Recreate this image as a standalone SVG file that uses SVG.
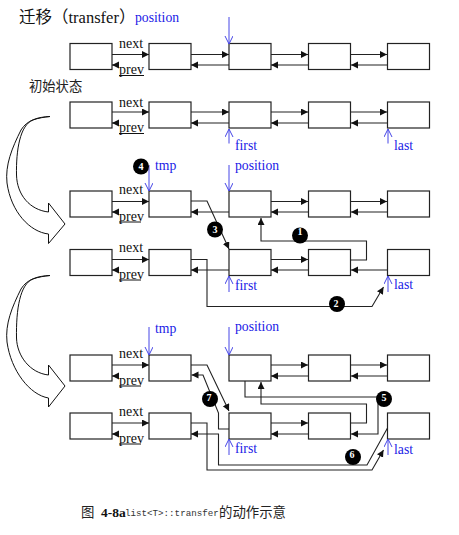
<svg xmlns="http://www.w3.org/2000/svg" width="459" height="535" viewBox="0 0 459 535">
<style>
text{font-family:"Liberation Serif","Noto Sans CJK SC",serif}
.n{fill:#fff;stroke:#222;stroke-width:1.2}
.c{fill:none;stroke:#222;stroke-width:1.1;marker-end:url(#a)}
.b{fill:none;stroke:#4646e6;stroke-width:1;marker-end:url(#o)}
.u{stroke:#111;stroke-width:1}
.l{font-size:14px;fill:#111}
.p{font-size:13.7px;fill:#1a1ae6}
.k{fill:#000}
.w{font-size:10px;font-weight:bold;fill:#fff;text-anchor:middle}
.h{fill:#fff;stroke:#111;stroke-width:1}
</style>
<defs>
<marker id="a" markerUnits="userSpaceOnUse" markerWidth="8" markerHeight="8" refX="7" refY="3.500" orient="auto"><path d="M0,0L7,3.500L0,7z" fill="#111"/></marker>
<marker id="o" markerUnits="userSpaceOnUse" markerWidth="10" markerHeight="12" refX="8" refY="4" orient="auto"><path d="M0,0L8,4L0,8" fill="none" stroke="#4646e6"/></marker>
</defs>
<text x="19" y="23" font-size="16.500" fill="#111">迁移（transfer）</text>
<text x="135" y="22" class="p">position</text>
<text x="29" y="91" font-size="13.300" fill="#222">初始状态</text>
<g id="curved-arrows">
<path class="h" d="M50,116.500C38,117 27,120 21,130C12,148 5,165 7,183C11,212 30,232 48.500,234L48.500,243.500L65,224L48.500,203L48.500,212C30,210 17,195 16.500,175C16,150 20,125 33,120C38,118 45,117 50,116.500z"/>
<path class="h" d="M50,275.500C38,276 27,279 21,289C12,307 5,324 7,342C11,371 30,395 48.500,398L48.500,407L65,386L48.500,365L48.500,375C30,373 17,356 16.500,338C16,309 20,284 33,279C38,277 45,276 50,275.500z"/>
</g>
<g id="r1">
<rect id="n11" class="n" x="70" y="43.500" width="42" height="26"/><rect id="n12" class="n" x="149" y="43.500" width="42" height="26"/><rect id="n13" class="n" x="229" y="43.500" width="42" height="26"/><rect id="n14" class="n" x="308.500" y="43.500" width="42" height="26"/><rect id="n15" class="n" x="387.500" y="43.500" width="42" height="26"/>
</g>
<g id="r2">
<rect id="n21" class="n" x="70" y="102" width="42" height="26"/><rect id="n22" class="n" x="149" y="102" width="42" height="26"/><rect id="n23" class="n" x="229" y="102" width="42" height="26"/><rect id="n24" class="n" x="308.500" y="102" width="42" height="26"/><rect id="n25" class="n" x="387.500" y="102" width="42" height="26"/>
</g>
<g id="r3">
<rect id="n31" class="n" x="70" y="191" width="42" height="26"/><rect id="n32" class="n" x="149" y="191" width="42" height="26"/><rect id="n33" class="n" x="229" y="191" width="42" height="26"/><rect id="n34" class="n" x="308.500" y="191" width="42" height="26"/><rect id="n35" class="n" x="387.500" y="191" width="42" height="26"/>
</g>
<g id="r4">
<rect id="n41" class="n" x="70" y="249.500" width="42" height="26"/><rect id="n42" class="n" x="149" y="249.500" width="42" height="26"/><rect id="n43" class="n" x="229" y="249.500" width="42" height="26"/><rect id="n44" class="n" x="308.500" y="249.500" width="42" height="26"/><rect id="n45" class="n" x="387.500" y="249.500" width="42" height="26"/>
</g>
<g id="r5">
<rect id="n51" class="n" x="70" y="355" width="42" height="26"/><rect id="n52" class="n" x="149" y="355" width="42" height="26"/><rect id="n53" class="n" x="229" y="355" width="42" height="26"/><rect id="n54" class="n" x="308.500" y="355" width="42" height="26"/><rect id="n55" class="n" x="387.500" y="355" width="42" height="26"/>
</g>
<g id="r6">
<rect id="n61" class="n" x="70" y="413" width="42" height="26"/><rect id="n62" class="n" x="149" y="413" width="42" height="26"/><rect id="n63" class="n" x="229" y="413" width="42" height="26"/><rect id="n64" class="n" x="308.500" y="413" width="42" height="26"/><rect id="n65" class="n" x="387.500" y="413" width="42" height="26"/>
</g>
<g id="connectors">
<path class="c" d="M112,54.500H149"/><path class="c" d="M119,65H112"/><path class="c" d="M191,54.500H229"/><path class="c" d="M229,65H191"/><path class="c" d="M271,54.500H308"/><path class="c" d="M308,65H271"/><path class="c" d="M351,54.500H387"/><path class="c" d="M387,65H351"/>
<path class="c" d="M112,112H149"/><path class="c" d="M119,123H112"/><path class="c" d="M191,112H229"/><path class="c" d="M229,123H191"/><path class="c" d="M271,112H308"/><path class="c" d="M308,123H271"/><path class="c" d="M351,112H387"/><path class="c" d="M387,123H351"/>
<path class="c" d="M112,201.500H149"/><path class="c" d="M119,212H112"/><path class="c" d="M229,212H191"/><path class="c" d="M271,201.500H308"/><path class="c" d="M308,212H271"/><path class="c" d="M351,201.500H387"/><path class="c" d="M387,212H351"/>
<path class="c" d="M191,201H207L229,249"/>
<path class="c" d="M112,259.500H149"/><path class="c" d="M119,270H112"/><path class="c" d="M229,270H191"/><path class="c" d="M271,259.500H308"/><path class="c" d="M308,270H271"/><path class="c" d="M387,270H351"/>
<path class="c" d="M191,259.500H207V306.500H372L383.500,287"/>
<path class="c" d="M351,260H366.500V241H261V218"/>
<path class="c" d="M112,365H149"/><path class="c" d="M119,376H112"/><path class="c" d="M271,365H308"/><path class="c" d="M308,376H271"/><path class="c" d="M351,365H387"/><path class="c" d="M387,376H351"/>
<path class="c" d="M191,365H207L229,411"/>
<path class="c" d="M229,429H218.500V413L203,375H191.500"/>
<path class="c" d="M112,423H149"/><path class="c" d="M119,434H112"/><path class="c" d="M271,423H308"/><path class="c" d="M308,434H271"/>
<path class="c" d="M191,423H207V470H372L383.500,450"/>
<path class="c" d="M387.500,428L367,465H218.500V434H191"/>
<path class="c" d="M245,381V397H378V434H351"/>
<path class="c" d="M351,423H366.500V404H261V382"/>
<path class="b" d="M229,17V44"/><path class="b" d="M229,143.500V129"/><path class="b" d="M388,143.500V129"/>
<path class="b" d="M149,165V191"/><path class="b" d="M229,165V191"/><path class="b" d="M229,292V276"/><path class="b" d="M388,292V276"/>
<path class="b" d="M149,327V355"/><path class="b" d="M229,327V355"/><path class="b" d="M229,455V439"/><path class="b" d="M388,455V439"/>
</g>
<g id="labels">
<text x="119" y="48" class="l">next</text><text x="119" y="74" class="l">prev</text><line class="u" x1="119" y1="75.500" x2="144" y2="75.500"/>
<text x="119" y="107" class="l">next</text><text x="119" y="132" class="l">prev</text><line class="u" x1="119" y1="133.500" x2="144" y2="133.500"/>
<text x="119" y="194" class="l">next</text><text x="119" y="221" class="l">prev</text><line class="u" x1="119" y1="222" x2="141" y2="222"/>
<text x="119" y="252" class="l">next</text><text x="119" y="279" class="l">prev</text><line class="u" x1="119" y1="280" x2="141" y2="280"/>
<text x="119" y="358" class="l">next</text><text x="119" y="385" class="l">prev</text><line class="u" x1="119" y1="386" x2="141" y2="386"/>
<text x="119" y="416" class="l">next</text><text x="119" y="443" class="l">prev</text><line class="u" x1="119" y1="444" x2="141" y2="444"/>
<text x="235" y="150" class="p">first</text><text x="394" y="150" class="p">last</text>
<text x="155" y="170" class="p">tmp</text><text x="235" y="170" class="p">position</text>
<text x="235" y="290" class="p">first</text><text x="394" y="289" class="p">last</text>
<text x="155" y="333" class="p">tmp</text><text x="235" y="331" class="p">position</text>
<text x="235" y="453" class="p">first</text><text x="394" y="454" class="p">last</text>
</g>
<g id="badges">
<circle class="k" cx="141" cy="166.500" r="8"/><text class="w" x="141" y="170">4</text>
<circle class="k" cx="215" cy="229.500" r="8"/><text class="w" x="215" y="232.500">3</text>
<circle class="k" cx="300" cy="235.500" r="8"/><text class="w" x="300" y="235">1</text>
<circle class="k" cx="337" cy="304" r="8"/><text class="w" x="336" y="307">2</text>
<circle class="k" cx="384" cy="399" r="8"/><text class="w" x="384" y="401">5</text>
<circle class="k" cx="353" cy="457" r="8"/><text class="w" x="352" y="458">6</text>
<circle class="k" cx="210" cy="399" r="8"/><text class="w" x="209" y="401">7</text>
</g>
<text x="81" y="517" font-size="13.400" fill="#222">图</text>
<text x="101" y="517" font-size="13.500" font-weight="bold" fill="#111">4-8a</text>
<text x="125" y="516" font-size="9.200" fill="#333" style="font-family:'Liberation Mono',monospace">list&lt;T&gt;::transfer</text>
<text x="219" y="517" font-size="13.400" fill="#222">的动作示意</text>
</svg>
